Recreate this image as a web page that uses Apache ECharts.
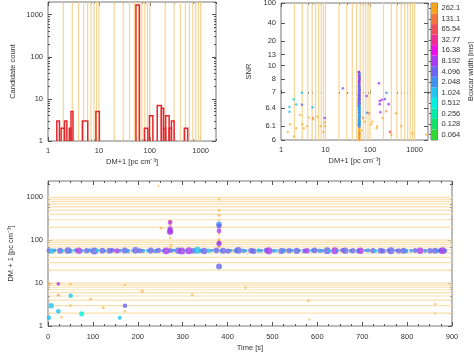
<!DOCTYPE html>
<html><head><meta charset="utf-8">
<script src="https://cdn.jsdelivr.net/npm/echarts@6/dist/echarts.min.js"></script>
<style>html,body{margin:0;padding:0;background:#fff}#c{width:474px;height:355px}</style>
</head><body><div id="c"></div>
<script>
// ---------------- data ----------------
// DM histogram (top-left)
const histLeft  = [1.49,1.81,2.11,2.62,2.83,4.74,8.73,53.5,78.5,98.5,140,169,187,205,240,266,478];
const histRight = [1.68,2.11,2.35,2.83,3.10,6.04,10.2,62.6,91.5,115,169,187,205,240,266,301,556];
const histCount = [3,2,3,2,5,3,5,1700,2,4,7,6,2,4,2,3,2];

// guide lines (DM+1 values)
const dmGuideLines = [2,3,4,5,6,7,8,9,10,20,30,40,50,60,70,80,90,100,200,300,400,500,600,700,800,900,1000];

// tick values
const logMajorTicks = [1,10,100,1000];
const logMinorTicks = [2,3,4,5,6,7,8,9,20,30,40,50,60,70,80,90,200,300,400,500,600,700,800,900,2000];
const snrTicks = [6,6.1,6.4,7,8,10,13,20,40,100];

// boxcar widths (colour scale)
const boxcarWidths = [0.064,0.128,0.256,0.512,1.024,2.048,4.096,8.192,16.38,32.77,65.54,131.1,262.1];
const boxcarLabels = ['0.064','0.128','0.256','0.512','1.024','2.048','4.096','8.192','16.38','32.77','65.54','131.1','262.1'];
const boxcarColors = ['#33d833','#12e068','#00eca8','#00f0e0','#22c4f2','#3f93f0','#6a66f0','#a83cf0','#ec10e6','#f22c98','#f24f5e','#f3763e','#f8a31a'];

// bright candidates along the DM~57 band
const bandTime = [2,8,15,27,33,44,50,61,69,76,
  86,93,103,110,121,127,137,144,154,161,
  171,178,188,195,205,212,222,229,239,246,
  256,263,273,280,290,298,307,314,324,333,
  341,348,358,365,375,384,390,401,407,418,
  424,435,441,452,458,469,475,486,492,503,
  509,520,526,537,543,554,560,571,577,588,
  594,605,611,622,628,639,645,656,662,673,
  679,690,696,707,713,724,730,741,747,758,
  764,775,781,792,798,809,818,829,840,851,
  862,868,874,879,884];
const bandDM = [57,56,58,57,56.5,57.5,56,58,57,56.5,
  57,58,56,57.5,57,56,57,58,56.5,57,
  57.5,56,57,58,57,56.5,57,57.5,56,58,
  57,56.5,57,58,57,56,57.5,57,56.5,58,
  57,56,57,57.5,58,56.5,57,56,57.5,57,
  58,57,56.5,57,56,57.5,57,58,56.5,57,
  57,56,57.5,57,58,56.5,57,56,57,57.5,
  58,57,56.5,57,56,57,57.5,58,57,56.5,
  57,56,57,57.5,58,57,56.5,57,56,57.5,
  57,58,56.5,57,56,57,57.5,57,56.5,57,
  57,56.5,57.5,57,56.5];
const bandSNR = [6.49,6.90,6.22,7.26,6.13,8.06,6.58,6.33,7.62,6.17,
  6.70,6.40,8.92,6.27,6.98,6.12,7.07,6.53,6.83,6.19,
  7.37,6.44,6.10,7.90,6.64,6.30,6.24,7.16,6.37,6.76,
  6.15,8.42,6.49,6.22,7.49,8.84,6.13,8.62,6.90,8.62,
  6.27,7.75,6.40,6.17,6.98,6.12,7.26,6.70,6.19,6.53,
  8.23,6.44,6.10,6.83,7.07,6.37,6.24,6.64,8.84,6.30,
  6.15,7.37,6.49,6.76,6.22,7.62,6.13,6.58,6.90,6.33,
  7.16,6.40,6.27,8.06,6.17,8.42,6.12,6.53,7.49,6.19,
  6.70,6.44,7.90,6.10,6.37,6.83,6.24,7.07,6.64,6.30,
  8.42,6.15,6.76,7.26,6.49,6.22,6.58,7.75,6.33,6.90,
  7.07,6.37,6.64,8.23,6.53];
const bandWidth = [4.096,1.024,2.048,4.096,1.024,4.096,2.048,2.048,8.192,2.048,
  4.096,2.048,4.096,1.024,4.096,2.048,4.096,4.096,8.192,2.048,
  4.096,2.048,1.024,4.096,4.096,2.048,1.024,4.096,2.048,4.096,
  2.048,8.192,4.096,2.048,4.096,8.192,1.024,8.192,4.096,1.024,
  2.048,4.096,1.024,2.048,4.096,1.024,4.096,4.096,2.048,2.048,
  4.096,2.048,2.048,4.096,4.096,1.024,2.048,4.096,8.192,2.048,
  1.024,4.096,2.048,4.096,2.048,4.096,2.048,4.096,8.192,1.024,
  4.096,2.048,2.048,4.096,1.024,8.192,2.048,4.096,4.096,2.048,
  4.096,2.048,8.192,2.048,2.048,4.096,1.024,4.096,4.096,2.048,
  4.096,2.048,4.096,4.096,2.048,2.048,4.096,8.192,2.048,4.096,
  4.096,2.048,4.096,8.192,4.096];

// faint, wide-boxcar candidates
const faintTime = [12,64,118,140,175,233,302,361,412,467,470,531,598,651,716,786,842,872,
  2,50,23,50,30,123,171,171,321,580,582,863,863,95,210,440,
  246,252,274,381,381,381,381,381,272,272,381,272,381,272,381];
const faintDM = [57,57.5,56.5,57,57,57,58,57,56.5,57,58,57.5,57,56.5,57,58,57,57,
  9.7,9.5,5.2,3.0,1.6,2.7,2.2,9.0,5.3,3.85,1.42,3.24,1.95,4.2,6.5,7.8,
  1850,190,76,498,380,105,95,140,113,145,300,230,890,65,70];
const faintSNR = [6.01,6.03,6.02,6.07,6.05,6.00,6.04,6.02,6.06,6.01,6.09,6.03,6.08,6.02,6.04,6.00,6.06,6.03,
  6.10,6.14,6.20,6.12,6.12,6.25,6.08,6.05,6.18,6.10,6.05,6.08,6.02,6.21,6.22,6.10,
  6.03,6.20,6.15,6.10,6.28,6.12,6.28,6.08,6.15,6.10,6.03,6.32,6.04,6.06,6.20];
const faintWidth = [262.1,262.1,131.1,262.1,262.1,262.1,131.1,262.1,262.1,131.1,131.1,262.1,262.1,262.1,131.1,262.1,262.1,262.1,
  262.1,262.1,131.1,262.1,262.1,262.1,262.1,262.1,262.1,262.1,262.1,262.1,262.1,262.1,262.1,262.1,
  262.1,262.1,262.1,262.1,262.1,262.1,131.1,262.1,262.1,262.1,262.1,131.1,262.1,262.1,131.1];

// other individual candidates
const sparseTime = [2,160,7,171.5,23,75,23,50.5,381,381,381,381,381,272,272,272,272,272,381,272];
const sparseDM = [1.55,1.55,2.96,2.96,2.2,1.92,9.6,5.1,24.5,86,234,215,165,262,184,165,158,170,83.5,280];
const sparseSNR = [6.42,6.31,6.96,6.48,6.49,6.66,6.20,6.41,7.22,6.29,6.96,6.67,6.50,6.50,6.65,6.60,7.60,6.30,6.80,6.05];
const sparseWidth = [1.024,1.024,1.024,4.096,1.024,0.512,8.192,1.024,4.096,2.048,2.048,4.096,8.192,8.192,8.192,8.192,8.192,8.192,8.192,65.54];

// ---------------- helpers ----------------
const SNR_OFF = 5.9;
const snrToY = s => Math.log10(s - SNR_OFF);
const FONT = {fontFamily:'Liberation Sans', fontSize:7.5, color:'#333'};
const TICK = {color:'#555', width:1};
const GUIDE_TOP = '#f6d596';
const GUIDE_BOT = '#f9e0ae';

function logAxis(grid, pos, max, ticks, len, labels, extra) {
  return Object.assign({
    gridIndex: grid, type: 'log', logBase: 10, min: 1, max: max, position: pos,
    axisLine: {show: false}, splitLine: {show: false},
    axisTick: {show: true, inside: true, length: len, customValues: ticks, lineStyle: TICK},
    axisLabel: labels ? Object.assign({customValues: logMajorTicks, margin: 5, formatter: v => String(Math.round(v))}, FONT) : {show: false},
    nameTextStyle: FONT
  }, extra || {});
}
const nameX = (txt, gap) => ({name: txt, nameLocation: 'middle', nameGap: gap});
const xLogLabels = Object.assign({customValues: logMajorTicks, margin: 6, formatter: v => String(Math.round(v))}, FONT);

const xAxes = [], yAxes = [];
// grid 0 (top-left)
xAxes.push(logAxis(0,'bottom',2000,logMajorTicks,4,true,Object.assign({axisLabel:xLogLabels},nameX('DM+1 [pc cm⁻³]',17)))); //0
xAxes.push(logAxis(0,'bottom',2000,logMinorTicks,2,false)); //1
xAxes.push(logAxis(0,'top',2000,logMajorTicks,4,false));    //2
xAxes.push(logAxis(0,'top',2000,logMinorTicks,2,false));    //3
yAxes.push(logAxis(0,'left',2000,logMajorTicks,4,true,nameX('Candidate count',31))); //0
yAxes.push(logAxis(0,'left',2000,logMinorTicks,2,false));   //1
yAxes.push(logAxis(0,'right',2000,logMajorTicks,4,false));  //2
yAxes.push(logAxis(0,'right',2000,logMinorTicks,2,false));  //3
// grid 1 (top-right)
xAxes.push(logAxis(1,'bottom',2000,logMajorTicks,4,true,Object.assign({axisLabel:xLogLabels},nameX('DM+1 [pc cm⁻³]',17)))); //4
xAxes.push(logAxis(1,'bottom',2000,logMinorTicks,2,false)); //5
xAxes.push(logAxis(1,'top',2000,logMajorTicks,4,false));    //6
xAxes.push(logAxis(1,'top',2000,logMinorTicks,2,false));    //7
const snrY = snrTicks.map(snrToY);
const snrMin = snrY[0], snrMax = snrY[snrY.length - 1];
const snrFmt = v => { let best = snrTicks[0], d = 1e9; snrTicks.forEach(s => { const e = Math.abs(snrToY(s) - v); if (e < d) { d = e; best = s; } }); return String(best); };
yAxes.push(Object.assign({gridIndex:1, type:'value', min:snrMin, max:snrMax, position:'left',
  axisLine:{show:false}, splitLine:{show:false},
  axisTick:{show:true, inside:true, length:4, customValues:snrY, lineStyle:TICK},
  axisLabel:Object.assign({customValues:snrY, margin:5, formatter:snrFmt, showMinLabel:true, showMaxLabel:true}, FONT),
  nameTextStyle:FONT}, nameX('SNR',28))); //4
yAxes.push({gridIndex:1, type:'value', min:snrMin, max:snrMax, position:'right',
  axisLine:{show:false}, splitLine:{show:false},
  axisTick:{show:true, inside:true, length:4, customValues:snrY, lineStyle:TICK},
  axisLabel:{show:false}}); //5
// grid 2 (colour bar)
xAxes.push({gridIndex:2, type:'value', min:0, max:1, show:false}); //8
yAxes.push({gridIndex:2, type:'category', data:boxcarLabels, position:'right',
  axisLine:{show:false}, splitLine:{show:false},
  axisTick:{show:true, inside:true, length:2, alignWithLabel:true, lineStyle:TICK},
  axisLabel:Object.assign({margin:4}, FONT),
  name:'Boxcar width [ms]', nameLocation:'middle', nameGap:29, nameRotate:90, nameTextStyle:FONT}); //6
// grid 3 (bottom)
xAxes.push(Object.assign({gridIndex:3, type:'value', min:0, max:900, interval:100, position:'bottom',
  axisLine:{show:false}, splitLine:{show:false},
  axisTick:{show:true, inside:true, length:4, lineStyle:TICK},
  minorTick:{show:true, splitNumber:4, length:2, lineStyle:TICK},
  axisLabel:Object.assign({margin:7}, FONT), nameTextStyle:FONT}, nameX('Time [s]',18))); //9
xAxes.push({gridIndex:3, type:'value', min:0, max:900, interval:100, position:'top',
  axisLine:{show:false}, splitLine:{show:false},
  axisTick:{show:true, inside:true, length:4, lineStyle:TICK},
  minorTick:{show:true, splitNumber:4, length:2, lineStyle:TICK},
  axisLabel:{show:false}}); //10
yAxes.push(logAxis(3,'left',2400,logMajorTicks,4,true,nameX('DM + 1 [pc cm⁻³]',31))); //7
yAxes.push(logAxis(3,'left',2400,logMinorTicks,2,false));   //8
yAxes.push(logAxis(3,'right',2400,logMajorTicks,4,false));  //9
yAxes.push(logAxis(3,'right',2400,logMinorTicks,2,false));  //10

// ---------------- series ----------------
function vGuide(params, api) {
  const cs = params.coordSys;
  const x = api.coord([api.value(0), api.value(1)])[0];
  return {type:'line', shape:{x1:x, y1:cs.y, x2:x, y2:cs.y + cs.height}, style:{stroke:GUIDE_TOP, lineWidth:1.2}};
}
function hGuide(params, api) {
  const cs = params.coordSys;
  const y = api.coord([api.value(0), api.value(1)])[1];
  return {type:'line', shape:{x1:cs.x, y1:y, x2:cs.x + cs.width, y2:y}, style:{stroke:GUIDE_BOT, lineWidth:1.2}};
}
function histItem(params, api) {
  const a = api.coord([api.value(0), api.value(2)]);
  const b = api.coord([api.value(1), 1]);
  return {type:'polyline', shape:{points:[[a[0], b[1]], [a[0], a[1]], [b[0], a[1]], [b[0], b[1]]]},
    style:{stroke:'#e4262c', lineWidth:1.5, fill:'none'}};
}
const topData = (dm, snr, w) => dm.map((d, i) => [d, snrToY(snr[i]), snr[i], w[i]]);
const botData = (t, dm, snr, w) => t.map((x, i) => [x, dm[i], snr[i], w[i]]);
const botSize = v => Math.max(1.8, 5.5 + 3.5 * Math.log10(v[2] - SNR_OFF));
const faintSize = v => 2 + 2 * (Math.log10(v[2] - SNR_OFF) + 1);

const series = [
  {type:'custom', xAxisIndex:0, yAxisIndex:0, renderItem:vGuide, data:dmGuideLines.map(v => [v, 1]), encode:{x:0, y:1}, silent:true, z:1},
  {type:'custom', xAxisIndex:0, yAxisIndex:0, renderItem:histItem, data:histLeft.map((l, i) => [l, histRight[i], histCount[i]]), encode:{x:[0, 1], y:2}, silent:true, z:3},
  {type:'custom', xAxisIndex:4, yAxisIndex:4, renderItem:vGuide, data:dmGuideLines.map(v => [v, 0]), encode:{x:0, y:1}, silent:true, z:1},
  {type:'scatter', xAxisIndex:4, yAxisIndex:4, data:topData(faintDM, faintSNR, faintWidth), symbolSize:2.4, itemStyle:{opacity:0.65}, silent:true, z:3},
  {type:'scatter', xAxisIndex:4, yAxisIndex:4, data:topData(bandDM, bandSNR, bandWidth), symbolSize:2.6, silent:true, z:3},
  {type:'scatter', xAxisIndex:4, yAxisIndex:4, data:topData(sparseDM, sparseSNR, sparseWidth), symbolSize:2.6, silent:true, z:3},
  {type:'bar', xAxisIndex:8, yAxisIndex:6, data:boxcarColors.map(c => ({value:1, itemStyle:{color:c}})), barWidth:'100%', barCategoryGap:'0%', silent:true},
  {type:'custom', xAxisIndex:9, yAxisIndex:7, renderItem:hGuide, data:dmGuideLines.map(v => [0, v]), encode:{x:0, y:1}, silent:true, z:1},
  {type:'scatter', xAxisIndex:9, yAxisIndex:7, data:botData(faintTime, faintDM, faintSNR, faintWidth), symbolSize:faintSize, itemStyle:{opacity:0.55}, silent:true, z:3},
  {type:'scatter', xAxisIndex:9, yAxisIndex:7, data:botData(bandTime, bandDM, bandSNR, bandWidth), symbolSize:botSize, silent:true, z:3},
  {type:'scatter', xAxisIndex:9, yAxisIndex:7, data:botData(sparseTime, sparseDM, sparseSNR, sparseWidth), symbolSize:botSize, silent:true, z:3}
];

const gridBase = {show:true, borderColor:'#777', borderWidth:1, backgroundColor:'transparent', containLabel:false, outerBoundsMode:'none'};
const option = {
  animation:false,
  backgroundColor:'#fff',
  grid:[
    Object.assign({left:48, top:2, width:168, height:139}, gridBase),
    Object.assign({left:281, top:3, width:147, height:137}, gridBase),
    Object.assign({left:431, top:3, width:6.5, height:137}, gridBase),
    Object.assign({left:48, top:181, width:404, height:145}, gridBase)
  ],
  xAxis:xAxes, yAxis:yAxes,
  visualMap:{type:'piecewise', show:false, dimension:3, seriesIndex:[3,4,5,8,9,10],
    pieces:boxcarWidths.map((w, i) => ({gt:w / Math.SQRT2, lte:w * Math.SQRT2, color:boxcarColors[i]}))},
  series:series
};
const chart = echarts.init(document.getElementById('c'), null, {renderer:'canvas'});
chart.setOption(option);
</script></body></html>
